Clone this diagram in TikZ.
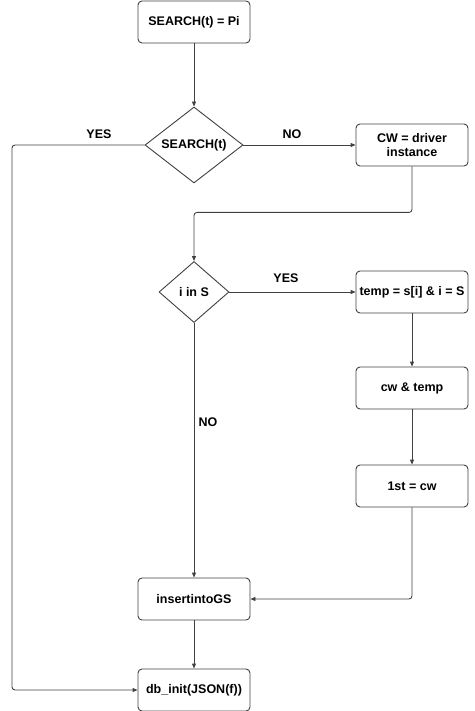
\documentclass[tikz,border=0pt]{standalone}
\usepackage{fontspec}
\setmainfont{Liberation Sans}
\usetikzlibrary{shapes.geometric,arrows.meta}
\tikzset{
	box/.style={draw=black!75, line width=0.9pt, rounded corners=4pt, minimum width=112pt, minimum height=42pt, align=center, inner sep=2pt},
	decision/.style={draw=black!75, line width=0.9pt, diamond, aspect=1.3, inner sep=0pt},
	flow/.style={draw=black!75, line width=0.9pt, rounded corners=3pt, -{Triangle[length=5pt,width=4pt]}},
	tag/.style={inner sep=0pt}
}
\begin{document}
\begin{tikzpicture}[x=1pt, y=-1pt, font=\fontsize{12.5}{14.5}\selectfont\bfseries]
	\useasboundingbox (0,0) rectangle (474,711);
	\node[box] (start) at (194,22) {SEARCH(t) = Pi};
	\node[decision, minimum width=98pt, minimum height=76pt] (search) at (194,145) {SEARCH(t)};
	\node[box] (cw) at (412,145) {CW = driver\\instance};
	\node[decision, minimum width=70pt, minimum height=61pt] (inS) at (194,292) {i in S};
	\node[box] (temp) at (412,292) {temp = s[i] \& i = S};
	\node[box] (cwtemp) at (412,388) {cw \& temp};
	\node[box] (first) at (412,486) {1st = cw};
	\node[box] (insert) at (194,599) {insertintoGS};
	\node[box] (dbinit) at (194,690) {db\_init(JSON(f))};
	\draw[flow] (start) -- (search);
	\draw[flow] (search.west) -- (12,145) |- (dbinit.west);
	\node[tag] at (99,134) {YES};
	\draw[flow] (search.east) -- (cw.west);
	\node[tag] at (292,134) {NO};
	\draw[flow] (cw.south) -- ++(0,46) -| (inS.north);
	\draw[flow] (inS.east) -- (temp.west);
	\node[tag] at (286,278) {YES};
	\draw[flow] (temp) -- (cwtemp);
	\draw[flow] (cwtemp) -- (first);
	\draw[flow] (inS.south) -- (insert.north);
	\node[tag] at (208,422) {NO};
	\draw[flow] (first.south) |- (insert.east);
	\draw[flow] (insert) -- (dbinit);
\end{tikzpicture}
\end{document}
